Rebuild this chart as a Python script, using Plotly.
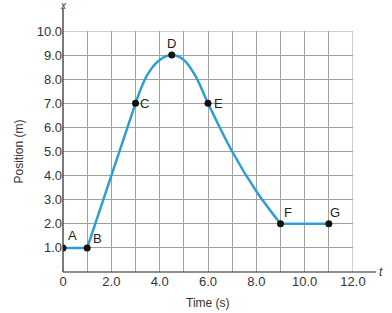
import plotly.graph_objects as go

# Labeled points
point_labels = ["A", "B", "C", "D", "E", "F", "G"]
point_t = [0, 1, 3, 4.5, 6, 9, 11]
point_x = [1, 1, 7, 9, 7, 2, 2]

# Curve
lin1_t = [0, 1, 3]
lin1_x = [1, 1, 7]
curve_t = [3, 3.5, 4, 4.5, 5, 5.5, 6, 7, 8, 9]
curve_x = [7, 8.2, 8.8, 9, 8.8, 8.1, 7, 5, 3.35, 2]
lin2_t = [9, 11]
lin2_x = [2, 2]

x_tickvals = list(range(0, 13))
x_ticktext = ["0" if v == 0 else (f"{v:.1f}" if v % 2 == 0 else "") for v in x_tickvals]
y_tickvals = list(range(1, 11))
y_ticktext = [f"{v:.1f}" for v in y_tickvals]

line_color = "#2e9fd2"
grid_color = "#a0a0a0"
font = "Liberation Sans, Arial, sans-serif"

fig = go.Figure()
for tt, xx, shape in [(lin1_t, lin1_x, "linear"), (curve_t, curve_x, "spline"), (lin2_t, lin2_x, "linear")]:
    fig.add_trace(go.Scatter(x=tt, y=xx, mode="lines",
                             line=dict(color=line_color, width=2.5, shape=shape, smoothing=1.0),
                             hoverinfo="skip", showlegend=False))

fig.add_trace(go.Scatter(x=point_t, y=point_x, mode="markers",
                         marker=dict(color="#111111", size=7),
                         showlegend=False))

# point letter offsets (pixels)
offsets = {"A": (9, -12), "B": (10, -9), "C": (9, 0), "D": (0, -12), "E": (10, 0), "F": (7, -11), "G": (6, -11)}
for lab, tt, xx in zip(point_labels, point_t, point_x):
    dx, dy = offsets[lab]
    fig.add_annotation(x=tt, y=xx, text=lab, showarrow=False, xshift=dx, yshift=-dy,
                       font=dict(family=font, size=13, color="#222222"))

fig.update_xaxes(range=[0, 12], tickvals=x_tickvals, ticktext=x_ticktext,
                 showgrid=True, gridcolor=grid_color, gridwidth=1,
                 showline=False, zeroline=False, ticks="",
                 tickfont=dict(family=font, size=13, color="#333333"))
fig.update_yaxes(range=[0, 10], tickvals=y_tickvals, ticktext=y_ticktext,
                 showgrid=True, gridcolor=grid_color, gridwidth=1,
                 showline=False, zeroline=False, ticks="",
                 tickfont=dict(family=font, size=13, color="#333333"))

# extra border gridlines at right/top
fig.add_shape(type="line", xref="x", yref="y", x0=12, x1=12, y0=0, y1=10, line=dict(color=grid_color, width=1))
fig.add_shape(type="line", xref="x", yref="y", x0=0, x1=12, y0=10, y1=10, line=dict(color=grid_color, width=1))
# extended axis lines
fig.add_shape(type="line", xref="paper", yref="paper", x0=0, x1=1.08, y0=0, y1=0,
              line=dict(color="#222222", width=1.2))
fig.add_shape(type="line", xref="paper", yref="paper", x0=0, x1=0, y0=0, y1=1.095,
              line=dict(color="#222222", width=1.2))

fig.add_annotation(xref="paper", yref="paper", x=1.095, y=0, text="<i>t</i>", showarrow=False,
                   xanchor="center", yanchor="middle", font=dict(family=font, size=12, color="#333333"))
fig.add_annotation(xref="paper", yref="paper", x=0, y=1.0, yshift=26, text="<i>x</i>", showarrow=False,
                   xanchor="center", yanchor="middle", font=dict(family=font, size=10, color="#333333"))
fig.add_annotation(xref="paper", yref="paper", x=0.5, y=0, yshift=-31, text="Time (s)", showarrow=False,
                   xanchor="center", yanchor="middle", font=dict(family=font, size=12, color="#333333"))
fig.add_annotation(xref="paper", yref="paper", x=0, xshift=-45, y=0.5, text="Position (m)", showarrow=False,
                   textangle=-90, xanchor="center", yanchor="middle", font=dict(family=font, size=12, color="#333333"))

fig.update_layout(width=392, height=313, margin=dict(l=63, r=39, t=31, b=41),
                  plot_bgcolor="white", paper_bgcolor="white")

fig.write_html("out.html")
